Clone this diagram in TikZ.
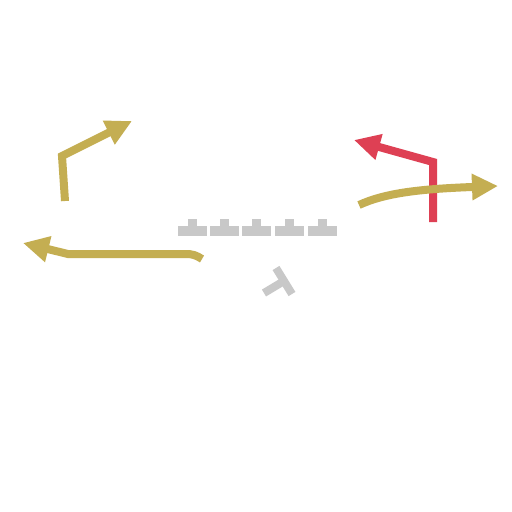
\documentclass[tikz,border=0pt]{standalone}
\usepackage{tikz}
\usetikzlibrary{arrows.meta}

\definecolor{routegold}{RGB}{196,174,82}
\definecolor{routered}{RGB}{222,64,84}
\definecolor{playergray}{RGB}{200,200,200}

\begin{document}
\begin{tikzpicture}[x=1pt, y=-1pt,
	route/.style={line width=8pt, line join=miter, -{Triangle[length=26pt, width=25pt]}},
	player/.style={fill=playergray, draw=none}]
	\fill[white] (0,0) rectangle (512,512); % weisser Rand
	
	% Linie
	\foreach \x in {192,224,256,289,322}{
		\fill[player] (\x-14.5,226) rectangle (\x+14.5,235.5);
		\fill[player] (\x-4.5,219) rectangle (\x+4.5,226.5);
	}
	
	% Quarterback
	\draw[playergray, line width=8pt] (276,268) -- (292,294);
	\draw[playergray, line width=8pt] (284,281) -- (264,293);
	
	% Routen
	\draw[route, routered] (433,222) -- (433,162) -- (354,140);
	\draw[route, routegold] (359,205) .. controls (385,193) and (420,189) .. (472,187) -- (498,186);
	\draw[route, routegold] (65,201) -- (62,156) -- (132,121);
	\draw[route, routegold] (202,259) .. controls (196,255) and (192,254) .. (186,254) -- (68,254) -- (23,243);
	
	%\draw[help lines, step=32] (0,0) grid (512,512);
\end{tikzpicture}
\end{document}
